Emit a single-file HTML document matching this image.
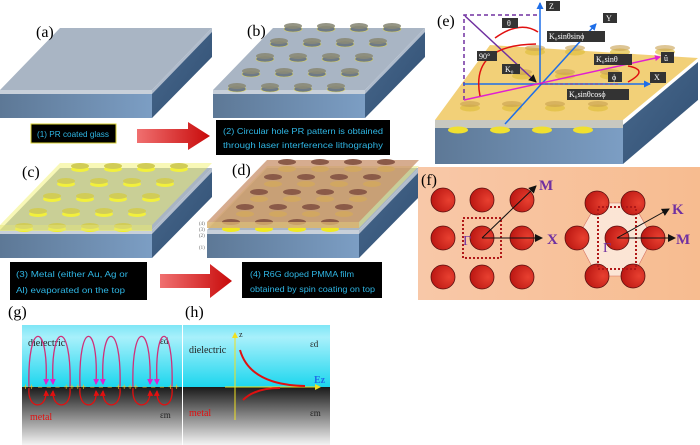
<!DOCTYPE html>
<html><head><meta charset="utf-8"><style>
html,body{margin:0;padding:0;background:#fff;}
svg{display:block;font-family:"Liberation Serif",serif;}
.lb{font-family:"Liberation Sans",sans-serif;font-size:8.5px;fill:#2fb6e4;}
.bx{fill:#333;}
.bt{fill:#fff;font-size:8px;}
</style></head><body>
<svg width="700" height="445" viewBox="0 0 700 445" xmlns="http://www.w3.org/2000/svg">
<defs>
<linearGradient id="gf" x1="0" x2="1" y1="0" y2="0"><stop offset="0" stop-color="#5d7896"/><stop offset="1" stop-color="#7c9ec4"/></linearGradient>
<linearGradient id="gs" x1="0" x2="1" y1="0" y2="1"><stop offset="0" stop-color="#4a6a8e"/><stop offset="1" stop-color="#2f4e72"/></linearGradient>
<linearGradient id="gd" x1="0" x2="0" y1="0" y2="1"><stop offset="0" stop-color="#7fe6f6"/><stop offset="0.2" stop-color="#a8f0fb"/><stop offset="1" stop-color="#1cd6ee"/></linearGradient>
<linearGradient id="gm" x1="0" x2="0" y1="0" y2="1"><stop offset="0" stop-color="#1a1a1a"/><stop offset="1" stop-color="#f4f4f4"/></linearGradient>
<linearGradient id="gp" x1="0" x2="1" y1="0" y2="0"><stop offset="0" stop-color="#f8c8a8"/><stop offset="1" stop-color="#f7bc90"/></linearGradient>
<radialGradient id="gc" cx="0.75" cy="0.5" r="0.8"><stop offset="0" stop-color="#e84030"/><stop offset="1" stop-color="#b81410"/></radialGradient>
<linearGradient id="ga" x1="0" x2="1"><stop offset="0" stop-color="#f07070"/><stop offset="1" stop-color="#c80a0a"/></linearGradient>
<marker id="ab" markerUnits="userSpaceOnUse" markerWidth="7" markerHeight="7" refX="6" refY="3.5" orient="auto"><path d="M0,0L7,3.5L0,7z" fill="#1e6ee8"/></marker>
<marker id="ak" markerUnits="userSpaceOnUse" markerWidth="8" markerHeight="8" refX="7" refY="4" orient="auto"><path d="M0,0L8,4L0,8z" fill="#111"/></marker>
<marker id="am" markerUnits="userSpaceOnUse" markerWidth="6" markerHeight="6" refX="5" refY="3" orient="auto"><path d="M0,0L6,3L0,6z" fill="#e020d0"/></marker>
<marker id="ar" markerUnits="userSpaceOnUse" markerWidth="6" markerHeight="6" refX="5" refY="3" orient="auto"><path d="M0,0L6,3L0,6z" fill="#e01010"/></marker>
<marker id="ay" markerUnits="userSpaceOnUse" markerWidth="6" markerHeight="6" refX="5" refY="3" orient="auto"><path d="M0,0L6,3L0,6z" fill="#f0e020"/></marker>
<g id="slab">
<polygon points="0,93 152,93 152,118 0,118" fill="url(#gf)"/>
<polygon points="152,93 212,31 212,57 152,118" fill="url(#gs)"/>
<polygon points="0,90 152,90 212,28 60,28" fill="#a9b5c4"/>
<polygon points="0,90 152,90 152,94 0,94" fill="#c8d0da"/>
<polygon points="152,90 212,28 212,32 152,94" fill="#b0bccc"/>
</g>
<g id="row"><ellipse cx="0" cy="3" rx="9" ry="3"/><ellipse cx="33" cy="3" rx="9" ry="3"/><ellipse cx="66" cy="3" rx="9" ry="3"/><ellipse cx="99" cy="3" rx="9" ry="3"/></g>
<g id="holes">
<use href="#row" x="80" y="26"/><use href="#row" x="66" y="41"/><use href="#row" x="52" y="56"/><use href="#row" x="38" y="71"/><use href="#row" x="24" y="86"/>
</g>
<g id="tops">
<use href="#row" x="80" y="23"/><use href="#row" x="66" y="38"/><use href="#row" x="52" y="53"/><use href="#row" x="38" y="68"/><use href="#row" x="24" y="83"/>
</g>
</defs>

<use href="#slab"/>
<text x="36" y="37" font-size="16">(a)</text>
<g transform="translate(213,0)">
<use href="#slab"/>
<use href="#holes" fill="#6e7a86" stroke="#d8d060" stroke-width="0.6"/>
<use href="#tops" fill="#8a8a78" opacity="0.9"/>
</g>
<text x="247" y="36" font-size="16">(b)</text>

<g transform="translate(0,140)">
<use href="#slab"/>
<use href="#holes" fill="#f4f020"/>
<use href="#tops" fill="#b8b050"/>
<polygon points="0,85 152,85 212,23 60,23" fill="#f0f060" opacity="0.45"/>
<polygon points="0,85 152,85 152,91 0,91" fill="#e8e870" opacity="0.7"/>
</g>
<text x="22" y="177" font-size="16">(c)</text>
<g transform="translate(207,140)">
<use href="#slab"/>
<use href="#holes" fill="#f0ea20"/>
<polygon points="0,88 152,88 212,26 60,26" fill="#e8e870" opacity="0.5"/>
<polygon points="0,82 152,82 212,20 60,20" fill="#c8906a" opacity="0.75"/>
<use href="#tops" transform="translate(0,-4)" fill="#8a5a48"/>
<polygon points="0,82 152,82 152,88 0,88" fill="#d8b070" opacity="0.8"/>
</g>
<text x="232" y="175" font-size="16">(d)</text>
<text x="199" y="225" font-size="5" fill="#666">(4)</text>
<text x="199" y="231" font-size="5" fill="#666">(3)</text>
<text x="199" y="237" font-size="5" fill="#666">(2)</text>
<text x="199" y="249" font-size="5" fill="#666">(1)</text>

<rect x="31" y="124" width="85" height="19" fill="#000" stroke="#d8d030" stroke-width="1"/>
<text class="lb" x="37" y="137" textLength="72" lengthAdjust="spacingAndGlyphs">(1) PR coated glass</text>
<polygon points="137,129 188,129 188,122 210,136 188,150 188,143 137,143" fill="url(#ga)"/>
<rect x="216" y="120" width="174" height="35" fill="#000"/>
<text class="lb" x="223" y="134" textLength="160" lengthAdjust="spacingAndGlyphs">(2) Circular hole PR pattern is obtained</text>
<text class="lb" x="223" y="148" textLength="160" lengthAdjust="spacingAndGlyphs">through laser interference lithography</text>
<rect x="10" y="262" width="137" height="38" fill="#000"/>
<text class="lb" x="16" y="277" textLength="112" lengthAdjust="spacingAndGlyphs">(3) Metal (either Au, Ag or</text>
<text class="lb" x="16" y="293" textLength="109" lengthAdjust="spacingAndGlyphs">Al) evaporated on the top</text>
<polygon points="160,274 210,274 210,264 232,281 210,298 210,288 160,288" fill="url(#ga)"/>
<rect x="242" y="262" width="140" height="36" fill="#000"/>
<text class="lb" x="250" y="277" textLength="104" lengthAdjust="spacingAndGlyphs">(4) R6G doped PMMA film</text>
<text class="lb" x="250" y="292" textLength="125" lengthAdjust="spacingAndGlyphs">obtained by spin coating on top</text>

<!-- (e) -->
<polygon points="435,125 623,125 623,164 435,164" fill="url(#gf)"/>
<polygon points="623,125 698,62 698,100 623,164" fill="url(#gs)"/>
<polygon points="435,120 623,120 698,58 490,45" fill="#f0c860" opacity="0.85"/>
<polygon points="435,120 623,120 623,128 435,128" fill="#c8c8c0"/>
<g fill="#f0e030"><ellipse cx="458" cy="130" rx="10" ry="3.5"/><ellipse cx="500" cy="130" rx="10" ry="3.5"/><ellipse cx="542" cy="130" rx="10" ry="3.5"/><ellipse cx="583" cy="130" rx="10" ry="3.5"/></g>
<g fill="#e0c040" opacity="0.7"><ellipse cx="470" cy="108" rx="10" ry="3.5"/><ellipse cx="512" cy="108" rx="10" ry="3.5"/><ellipse cx="555" cy="108" rx="10" ry="3.5"/><ellipse cx="598" cy="108" rx="10" ry="3.5"/>
<ellipse cx="522" cy="76" rx="10" ry="3.5"/><ellipse cx="565" cy="76" rx="10" ry="3.5"/><ellipse cx="610" cy="76" rx="10" ry="3.5"/>
<ellipse cx="535" cy="52" rx="10" ry="3.5"/><ellipse cx="575" cy="52" rx="10" ry="3.5"/><ellipse cx="620" cy="52" rx="10" ry="3.5"/><ellipse cx="665" cy="52" rx="10" ry="3.5"/></g>
<g fill="#c8a050" opacity="0.6"><ellipse cx="470" cy="104" rx="10" ry="3"/><ellipse cx="512" cy="104" rx="10" ry="3"/><ellipse cx="555" cy="104" rx="10" ry="3"/><ellipse cx="598" cy="104" rx="10" ry="3"/>
<ellipse cx="522" cy="72" rx="10" ry="3"/><ellipse cx="565" cy="72" rx="10" ry="3"/><ellipse cx="610" cy="72" rx="10" ry="3"/>
<ellipse cx="535" cy="48" rx="10" ry="3"/><ellipse cx="575" cy="48" rx="10" ry="3"/><ellipse cx="620" cy="48" rx="10" ry="3"/><ellipse cx="665" cy="48" rx="10" ry="3"/></g>
<text x="437" y="26" font-size="16">(e)</text>
<path d="M464,100V15H538" fill="none" stroke="#7030a0" stroke-width="1.5" stroke-dasharray="4,3"/>
<line x1="465" y1="16" x2="536" y2="82" stroke="#7030a0" stroke-width="1.5" marker-end="url(#ak)"/>
<line x1="540" y1="84" x2="540" y2="3" stroke="#1e6ee8" stroke-width="1.5" marker-end="url(#ab)"/>
<line x1="505" y1="124" x2="596" y2="24" stroke="#1e6ee8" stroke-width="1.5" marker-end="url(#ab)"/>
<line x1="463" y1="84" x2="650" y2="84" stroke="#1e6ee8" stroke-width="1.5" marker-end="url(#ab)"/>
<line x1="464" y1="100" x2="660" y2="57" stroke="#e020d0" stroke-width="1.5" marker-end="url(#am)"/>
<line x1="540" y1="84" x2="620" y2="84" stroke="#7030a0" stroke-width="1" stroke-dasharray="3,2"/>
<path d="M495,38 Q520,20 538,32" fill="none" stroke="#e01010" stroke-width="1.5"/>
<path d="M480,96 Q470,45 536,44" fill="none" stroke="#e01010" stroke-width="1.5"/>
<path d="M628,66 Q650,70 628,82" fill="none" stroke="#e01010" stroke-width="1.5"/>
<rect class="bx" x="502" y="18" width="16" height="10"/><text class="bt" x="507" y="26">θ</text>
<rect class="bx" x="477" y="51" width="20" height="10"/><text class="bt" x="479" y="59">90°</text>
<rect class="bx" x="502" y="64" width="18" height="10"/><text class="bt" x="505" y="72">K₀</text>
<rect class="bx" x="546" y="1" width="14" height="10"/><text class="bt" x="549" y="9">Z</text>
<rect class="bx" x="603" y="13" width="14" height="10"/><text class="bt" x="606" y="21">Y</text>
<rect class="bx" x="547" y="31" width="58" height="11"/><text class="bt" x="549" y="39">K₀sinθsinϕ</text>
<rect class="bx" x="594" y="54" width="38" height="11"/><text class="bt" x="596" y="62">K₀sinθ</text>
<rect class="bx" x="661" y="52" width="13" height="11"/><text class="bt" x="664" y="61">û</text>
<rect class="bx" x="608" y="72" width="14" height="10"/><text class="bt" x="612" y="80">ϕ</text>
<rect class="bx" x="650" y="72" width="16" height="11"/><text class="bt" x="654" y="80">X</text>
<rect class="bx" x="567" y="89" width="62" height="11"/><text class="bt" x="569" y="97">K₀sinθcosϕ</text>

<!-- (f) -->
<rect x="418" y="167" width="282" height="133" fill="url(#gp)"/>
<text x="421" y="185" font-size="16">(f)</text>
<g fill="url(#gc)" stroke="#5a1010" stroke-width="0.8">
<circle cx="443" cy="200" r="12"/><circle cx="482" cy="200" r="12"/><circle cx="522" cy="200" r="12"/>
<circle cx="443" cy="238" r="12"/><circle cx="482" cy="238" r="12"/><circle cx="522" cy="238" r="12"/>
<circle cx="443" cy="277" r="12"/><circle cx="482" cy="277" r="12"/><circle cx="522" cy="277" r="12"/>
</g>
<polygon points="597,203 633,203 653,238 633,276 597,276 577,238" fill="#fff" opacity="0.6" stroke="#c04040" stroke-width="0.6"/>
<g fill="url(#gc)" stroke="#5a1010" stroke-width="0.8">
<circle cx="597" cy="203" r="12"/><circle cx="633" cy="203" r="12"/><circle cx="577" cy="238" r="12"/>
<circle cx="617" cy="238" r="12"/><circle cx="653" cy="238" r="12"/><circle cx="597" cy="276" r="12"/><circle cx="633" cy="276" r="12"/>
</g>
<rect x="463" y="218" width="38" height="40" fill="none" stroke="#b01818" stroke-width="2" stroke-dasharray="2,2"/>
<rect x="598" y="207" width="38" height="62" fill="none" stroke="#b01818" stroke-width="2" stroke-dasharray="2,2"/>
<line x1="482" y1="238" x2="536" y2="186" stroke="#111" stroke-width="1" marker-end="url(#ak)"/>
<line x1="482" y1="238" x2="542" y2="238" stroke="#111" stroke-width="1" marker-end="url(#ak)"/>
<line x1="617" y1="238" x2="669" y2="209" stroke="#111" stroke-width="1" marker-end="url(#ak)"/>
<line x1="617" y1="238" x2="675" y2="238" stroke="#111" stroke-width="1" marker-end="url(#ak)"/>
<g fill="#7030a0" font-weight="bold" font-size="15"><text x="539" y="190">M</text><text x="547" y="244">X</text><text x="672" y="214">K</text><text x="676" y="244">M</text></g>
<g fill="#7030a0" font-size="14"><text x="463" y="245">Γ</text><text x="603" y="252">Γ</text></g>

<!-- (g) -->
<rect x="22" y="325" width="160" height="62" fill="url(#gd)"/>
<rect x="22" y="387" width="160" height="58" fill="url(#gm)"/>
<text x="8" y="317" font-size="16">(g)</text>
<text x="28" y="346" font-size="10" fill="#222">dielectric</text>
<text x="160" y="344" font-size="9" fill="#222">εd</text>
<text x="30" y="420" font-size="10" fill="#e01010">metal</text>
<text x="160" y="418" font-size="9" fill="#222">εm</text>
<g fill="none" stroke="#d0307a" stroke-width="1.3">
<path d="M29,387 C27,320 49,320 46,384" marker-end="url(#am)"/><path d="M70,387 C72,320 50,320 53,384" marker-end="url(#am)"/>
<path d="M80,387 C78,320 99,320 96,384" marker-end="url(#am)"/><path d="M120,387 C122,320 100,320 103,384" marker-end="url(#am)"/>
<path d="M133,387 C131,320 152,320 150,384" marker-end="url(#am)"/><path d="M172,387 C174,320 154,320 157,384" marker-end="url(#am)"/>
</g>
<g fill="none" stroke="#e01010" stroke-width="1.3">
<path d="M29,388 C27,410 47,410 46,391" marker-end="url(#ar)"/><path d="M70,388 C72,410 52,410 53,391" marker-end="url(#ar)"/>
<path d="M80,388 C78,410 98,410 96,391" marker-end="url(#ar)"/><path d="M120,388 C122,410 102,410 103,391" marker-end="url(#ar)"/>
<path d="M133,388 C131,410 151,410 150,391" marker-end="url(#ar)"/><path d="M172,388 C174,410 156,410 157,391" marker-end="url(#ar)"/>
</g>
<text x="23" y="390" font-size="9" fill="#f0c020" font-weight="bold" textLength="156" lengthAdjust="spacing">++ − − − ++++ − − − ++++ − − − ++</text>

<!-- (h) -->
<rect x="183" y="325" width="147" height="62" fill="url(#gd)"/>
<rect x="183" y="387" width="147" height="58" fill="url(#gm)"/>
<text x="185" y="317" font-size="16">(h)</text>
<text x="189" y="353" font-size="10" fill="#222">dielectric</text>
<text x="310" y="347" font-size="9" fill="#222">εd</text>
<text x="189" y="416" font-size="10" fill="#e01010">metal</text>
<text x="310" y="416" font-size="9" fill="#222">εm</text>
<line x1="235" y1="420" x2="235" y2="333" stroke="#f0e020" stroke-width="1" marker-end="url(#ay)"/>
<line x1="225" y1="387" x2="320" y2="387" stroke="#f0e020" stroke-width="1" marker-end="url(#ay)"/>
<text x="239" y="337" font-size="8" fill="#222">z</text>
<text x="314" y="383" font-size="10" fill="#1e6ee8" font-weight="bold">Ez</text>
<path d="M240,350 Q250,385 305,386" fill="none" stroke="#e01010" stroke-width="2"/>
<path d="M243,400 Q255,388 280,388" fill="none" stroke="#e01010" stroke-width="2"/>
</svg>
</body></html>
